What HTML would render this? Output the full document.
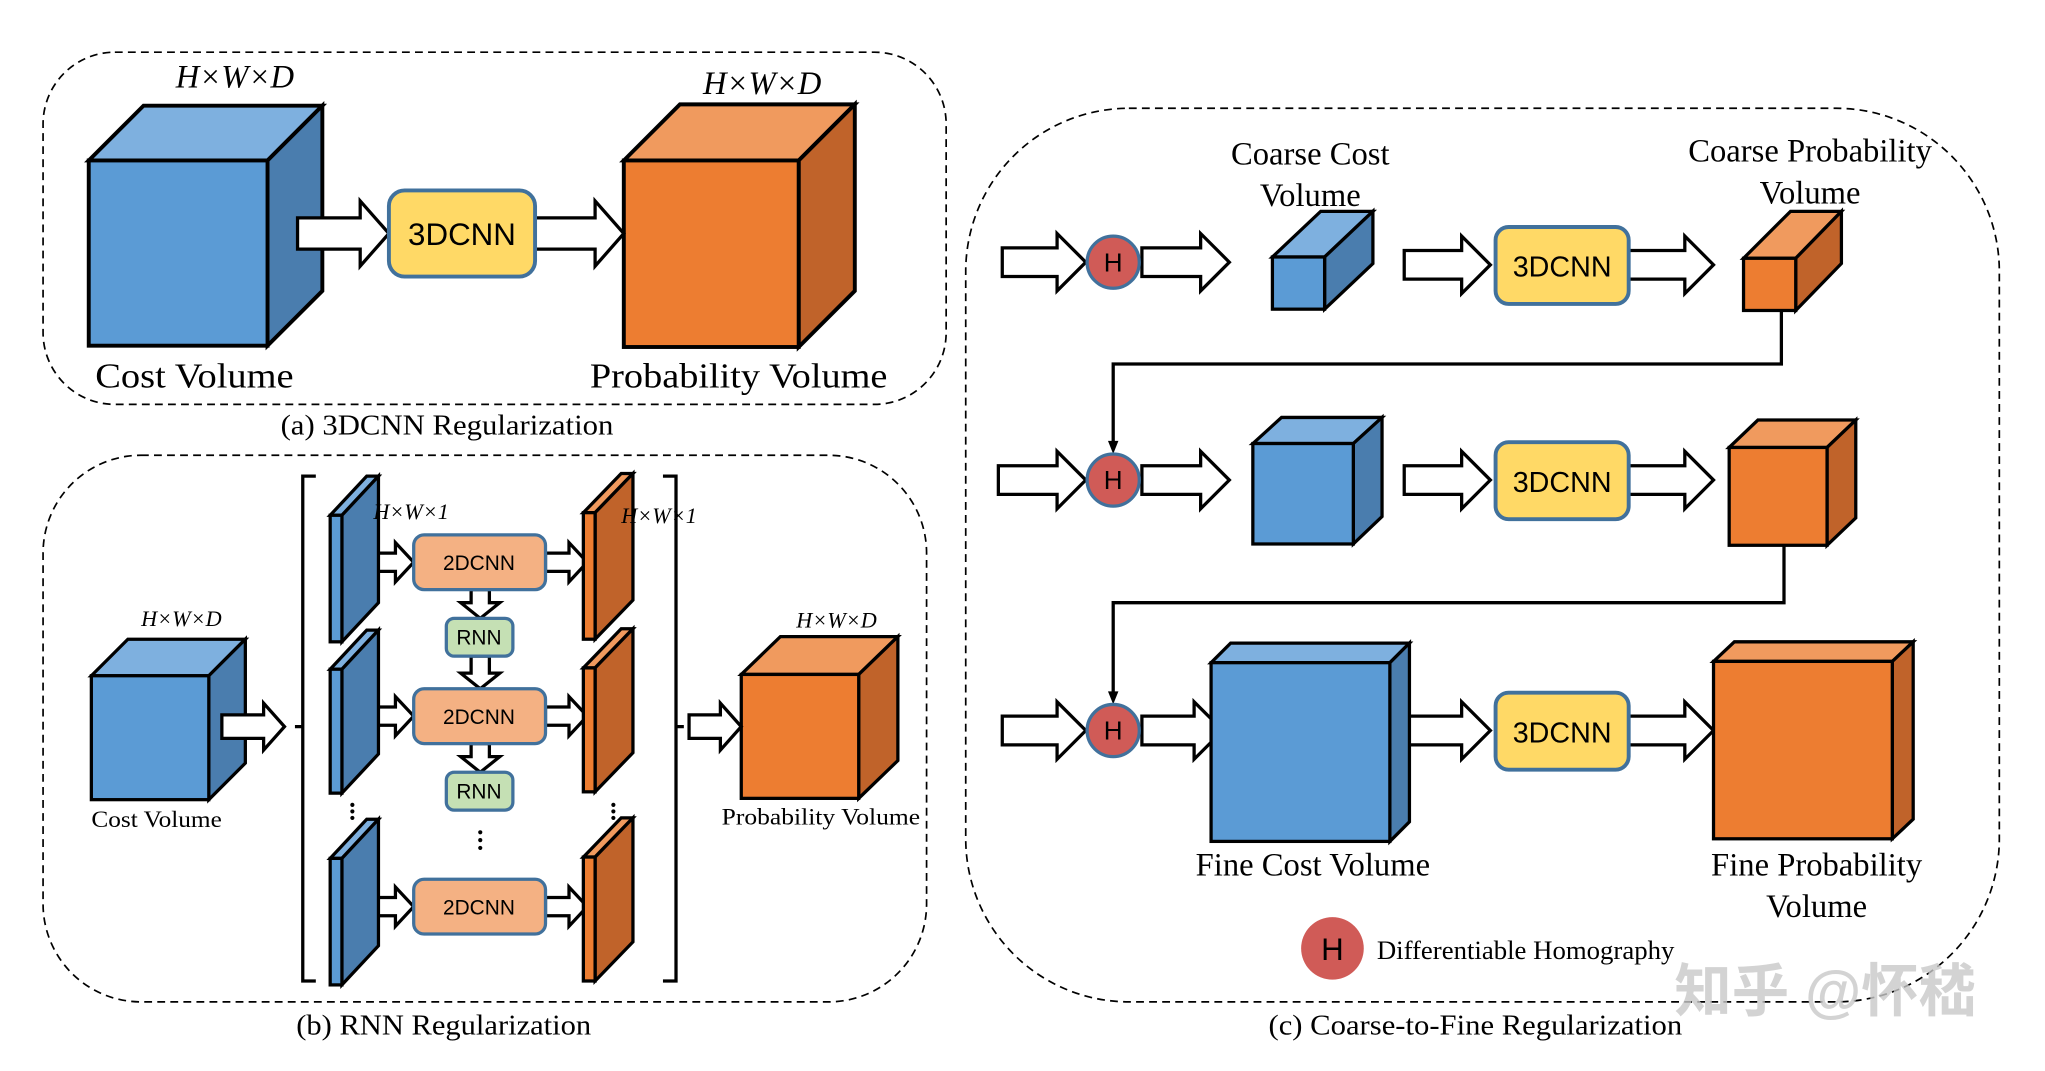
<!DOCTYPE html>
<html><head><meta charset="utf-8"><style>
html,body{margin:0;padding:0;background:#fff;}
svg{display:block;}
.s{font-family:"Liberation Serif",serif;fill:#000;}
.i{font-family:"Liberation Serif",serif;font-style:italic;fill:#000;}
.n{font-family:"Liberation Sans","DejaVu Sans",sans-serif;fill:#000;}
</style></head><body>
<svg width="2045" height="1071" viewBox="0 0 1567 821" preserveAspectRatio="none" xmlns="http://www.w3.org/2000/svg">
<g fill="none" stroke="#000" stroke-width="1.3" stroke-dasharray="6,4">
<rect x="33" y="40" width="692" height="270" rx="55"/>
<rect x="33" y="349" width="677" height="419" rx="75"/>
<rect x="740" y="83" width="792" height="685" rx="125"/>
</g>
<g stroke="#000" stroke-width="3" stroke-linejoin="miter">
<polygon points="68,123 110,81 247,81 205,123" fill="#7EB0DF"/>
<polygon points="205,123 247,81 247,223 205,265" fill="#4A7DAE"/>
<rect x="68" y="123" width="137" height="142" fill="#5B9BD5"/>
<polygon points="478,123 521,80 655,80 612,123" fill="#F09A5E"/>
<polygon points="612,123 655,80 655,223 612,266" fill="#C0632A"/>
<rect x="478" y="123" width="134" height="143" fill="#ED7D31"/>
</g>
<g stroke="#000" stroke-width="2.5" fill="#fff">
<polygon points="228,167 276,167 276,154 298,179 276,204 276,191 228,191"/>
<polygon points="410,167 456,167 456,154 478,179 456,204 456,191 410,191"/>
</g>
<rect x="298" y="146" width="112" height="66" rx="12" fill="#FFD966" stroke="#41719C" stroke-width="3"/>
<text x="354" y="188" class="n" font-size="24" text-anchor="middle">3DCNN</text>
<text x="180" y="67" class="i" font-size="25" text-anchor="middle">H×W×D</text>
<text x="584" y="72" class="i" font-size="25" text-anchor="middle">H×W×D</text>
<text x="73" y="297" class="s" font-size="27" textLength="152" lengthAdjust="spacingAndGlyphs">Cost Volume</text>
<text x="452" y="297" class="s" font-size="27" textLength="228" lengthAdjust="spacingAndGlyphs">Probability Volume</text>
<text x="215" y="333" class="s" font-size="22" textLength="255" lengthAdjust="spacingAndGlyphs">(a) 3DCNN Regularization</text>

<g stroke="#000" stroke-width="2.5">
<polygon points="70,518 98,490 188,490 160,518" fill="#7EB0DF"/>
<polygon points="160,518 188,490 188,585 160,613" fill="#4A7DAE"/>
<rect x="70" y="518" width="90" height="95" fill="#5B9BD5"/>
<polygon points="568,517 598,488 688,488 658,517" fill="#F09A5E"/>
<polygon points="658,517 688,488 688,583 658,612" fill="#C0632A"/>
<rect x="568" y="517" width="90" height="95" fill="#ED7D31"/>
</g>
<g stroke="#000" stroke-width="2.5" fill="#fff">
<polygon points="170,548 202,548 202,539 218,557 202,575 202,566 170,566"/>
<polygon points="528,548 552,548 552,539 568,557 552,575 552,566 528,566"/>
<polygon points="280,424 303,424 303,416 317,431 303,446 303,438 280,438"/>
<polygon points="280,542 303,542 303,534 317,549 303,564 303,556 280,556"/>
<polygon points="280,688 303,688 303,680 317,695 303,710 303,702 280,702"/>
<polygon points="418,424 436,424 436,416 450,431 436,446 436,438 418,438"/>
<polygon points="418,542 436,542 436,534 450,549 436,564 436,556 418,556"/>
<polygon points="418,688 436,688 436,680 450,695 436,710 436,702 418,702"/>
<polygon points="361,452 375,452 375,462 383,462 368,474 353,462 361,462"/>
<polygon points="361,503 375,503 375,516 383,516 368,528 353,516 361,516"/>
<polygon points="361,570 375,570 375,580 383,580 368,592 353,580 361,580"/>
</g>
<g stroke="#000" stroke-width="2.5">
<polygon points="253,395 262,395 290,365 281,365" fill="#7EB0DF"/>
<polygon points="262,395 290,365 290,462 262,492" fill="#4A7DAE"/>
<rect x="253" y="395" width="9" height="97" fill="#5B9BD5"/>
<polygon points="253,513 262,513 290,483 281,483" fill="#7EB0DF"/>
<polygon points="262,513 290,483 290,578 262,608" fill="#4A7DAE"/>
<rect x="253" y="513" width="9" height="95" fill="#5B9BD5"/>
<polygon points="253,658 262,658 290,628 281,628" fill="#7EB0DF"/>
<polygon points="262,658 290,628 290,725 262,755" fill="#4A7DAE"/>
<rect x="253" y="658" width="9" height="97" fill="#5B9BD5"/>
<polygon points="447,393 456,393 485,363 476,363" fill="#F09A5E"/>
<polygon points="456,393 485,363 485,460 456,490" fill="#C0632A"/>
<rect x="447" y="393" width="9" height="97" fill="#ED7D31"/>
<polygon points="447,512 456,512 485,482 476,482" fill="#F09A5E"/>
<polygon points="456,512 485,482 485,577 456,607" fill="#C0632A"/>
<rect x="447" y="512" width="9" height="95" fill="#ED7D31"/>
<polygon points="447,657 456,657 485,627 476,627" fill="#F09A5E"/>
<polygon points="456,657 485,627 485,722 456,752" fill="#C0632A"/>
<rect x="447" y="657" width="9" height="95" fill="#ED7D31"/>
</g>
<g fill="none" stroke="#000" stroke-width="2.5">
<path d="M242,365 H232 V752 H242 M232,557 H226"/>
<path d="M508,365 H518 V752 H508 M518,557 H524"/>
</g>
<g fill="#F4B183" stroke="#41719C" stroke-width="2.5">
<rect x="317" y="410" width="101" height="42" rx="8"/>
<rect x="317" y="528" width="101" height="42" rx="8"/>
<rect x="317" y="674" width="101" height="42" rx="8"/>
</g>
<g fill="#C5E0B4" stroke="#41719C" stroke-width="2.5">
<rect x="342" y="474" width="51" height="29" rx="6"/>
<rect x="342" y="592" width="51" height="29" rx="6"/>
</g>
<g class="n" font-size="16" text-anchor="middle">
<text x="367" y="437">2DCNN</text><text x="367" y="555">2DCNN</text><text x="367" y="701">2DCNN</text>
<text x="367" y="494">RNN</text><text x="367" y="612">RNN</text>
</g>
<g fill="#000">
<circle cx="270" cy="617" r="1.6"/><circle cx="270" cy="622" r="1.6"/><circle cx="270" cy="627" r="1.6"/>
<circle cx="368" cy="638" r="1.6"/><circle cx="368" cy="644" r="1.6"/><circle cx="368" cy="650" r="1.6"/>
<circle cx="470" cy="617" r="1.6"/><circle cx="470" cy="622" r="1.6"/><circle cx="470" cy="627" r="1.6"/>
</g>
<text x="315" y="398" class="i" font-size="17" text-anchor="middle">H×W×1</text>
<text x="505" y="401" class="i" font-size="17" text-anchor="middle">H×W×1</text>
<text x="139" y="480" class="i" font-size="17" text-anchor="middle">H×W×D</text>
<text x="641" y="481" class="i" font-size="17" text-anchor="middle">H×W×D</text>
<text x="70" y="634" class="s" font-size="18" textLength="100" lengthAdjust="spacingAndGlyphs">Cost Volume</text>
<text x="553" y="632" class="s" font-size="18" textLength="152" lengthAdjust="spacingAndGlyphs">Probability Volume</text>
<text x="227" y="793" class="s" font-size="22" textLength="226" lengthAdjust="spacingAndGlyphs">(b) RNN Regularization</text>

<g fill="none" stroke="#000" stroke-width="2.5">
<path d="M1365,238 V279 H853 V340"/>
<path d="M1367,418 V462 H853 V532"/>
</g>
<g fill="#000">
<polygon points="849,338 857,338 853,348"/>
<polygon points="849,530 857,530 853,540"/>
</g>
<g stroke="#000" stroke-width="2.5" fill="#fff">
<polygon points="768,190 810,190 810,179 832,201 810,223 810,212 768,212"/>
<polygon points="875,190 920,190 920,179 942,201 920,223 920,212 875,212"/>
<polygon points="1076,192 1120,192 1120,181 1142,203 1120,225 1120,214 1076,214"/>
<polygon points="1248,192 1291,192 1291,181 1313,203 1291,225 1291,214 1248,214"/>
<polygon points="765,357 810,357 810,346 832,368 810,390 810,379 765,379"/>
<polygon points="875,357 920,357 920,346 942,368 920,390 920,379 875,379"/>
<polygon points="1076,357 1120,357 1120,346 1142,368 1120,390 1120,379 1076,379"/>
<polygon points="1248,357 1291,357 1291,346 1313,368 1291,390 1291,379 1248,379"/>
<polygon points="768,549 810,549 810,538 832,560 810,582 810,571 768,571"/>
<polygon points="875,549 915,549 915,538 937,560 915,582 915,571 875,571"/>
<polygon points="1065,549 1120,549 1120,538 1142,560 1120,582 1120,571 1065,571"/>
<polygon points="1248,549 1291,549 1291,538 1313,560 1291,582 1291,571 1248,571"/>
</g>
<g stroke="#000" stroke-width="2.5">
<polygon points="975,197 1012,162 1052,162 1015,197" fill="#7EB0DF"/>
<polygon points="1015,197 1052,162 1052,202 1015,237" fill="#4A7DAE"/>
<rect x="975" y="197" width="40" height="40" fill="#5B9BD5"/>
<polygon points="1336,198 1372,162 1411,162 1376,198" fill="#F09A5E"/>
<polygon points="1376,198 1411,162 1411,202 1376,238" fill="#C0632A"/>
<rect x="1336" y="198" width="40" height="40" fill="#ED7D31"/>
<polygon points="960,340 982,320 1059,320 1037,340" fill="#7EB0DF"/>
<polygon points="1037,340 1059,320 1059,396 1037,417" fill="#4A7DAE"/>
<rect x="960" y="340" width="77" height="77" fill="#5B9BD5"/>
<polygon points="1325,343 1347,322 1422,322 1400,343" fill="#F09A5E"/>
<polygon points="1400,343 1422,322 1422,397 1400,418" fill="#C0632A"/>
<rect x="1325" y="343" width="75" height="75" fill="#ED7D31"/>
<polygon points="928,508 943,493 1080,493 1065,508" fill="#7EB0DF"/>
<polygon points="1065,508 1080,493 1080,630 1065,645" fill="#4A7DAE"/>
<rect x="928" y="508" width="137" height="137" fill="#5B9BD5"/>
<polygon points="1313,507 1329,492 1466,492 1450,507" fill="#F09A5E"/>
<polygon points="1450,507 1466,492 1466,628 1450,643" fill="#C0632A"/>
<rect x="1313" y="507" width="137" height="136" fill="#ED7D31"/>
</g>
<g fill="#FFD966" stroke="#41719C" stroke-width="3">
<rect x="1146" y="174" width="102" height="59" rx="10"/>
<rect x="1146" y="339" width="102" height="59" rx="10"/>
<rect x="1146" y="531" width="102" height="59" rx="10"/>
</g>
<g class="n" font-size="22" text-anchor="middle">
<text x="1197" y="212">3DCNN</text><text x="1197" y="377">3DCNN</text><text x="1197" y="569">3DCNN</text>
</g>
<g fill="#D05B57" stroke="#41719C" stroke-width="2.5">
<circle cx="853" cy="201" r="20"/><circle cx="853" cy="368" r="20"/><circle cx="853" cy="560" r="20"/>
<circle cx="1021" cy="727" r="24" stroke="none"/>
</g>
<g class="n" font-size="20" text-anchor="middle">
<text x="853" y="208">H</text><text x="853" y="375">H</text><text x="853" y="567">H</text>
<text x="1021" y="736" font-size="24">H</text>
</g>
<g class="s" font-size="25" text-anchor="middle">
<text x="1004" y="126">Coarse Cost</text><text x="1004" y="158">Volume</text>
<text x="1387" y="124">Coarse Probability</text><text x="1387" y="156">Volume</text>
<text x="1006" y="671">Fine Cost Volume</text>
<text x="1392" y="671">Fine Probability</text><text x="1392" y="703">Volume</text>
</g>
<text x="1055" y="735" class="s" font-size="20" textLength="228" lengthAdjust="spacingAndGlyphs">Differentiable Homography</text>
<text x="972" y="793" class="s" font-size="22" textLength="317" lengthAdjust="spacingAndGlyphs">(c) Coarse-to-Fine Regularization</text>
<text x="1283" y="775" font-family="'Liberation Sans','Noto Sans CJK SC',sans-serif" font-size="44" fill="#c8c8c8" fill-opacity="0.8" font-weight="bold">知乎 @怀嵇</text>
</svg>
</body></html>
